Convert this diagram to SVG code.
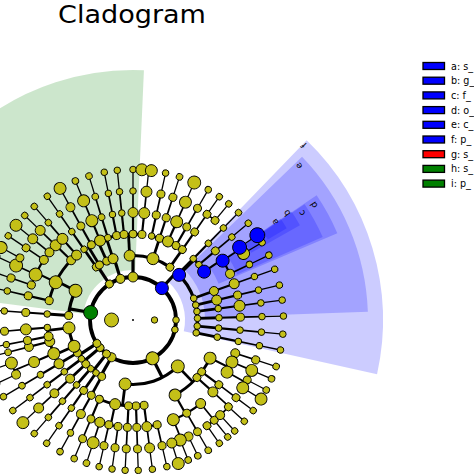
<svg xmlns="http://www.w3.org/2000/svg" xmlns:xlink="http://www.w3.org/1999/xlink" width="474" height="474" viewBox="0 0 474 474">
<style>
text{font-family:"DejaVu Sans","Liberation Sans",sans-serif}
#nodes circle{fill:#c4c018;stroke:#000;stroke-width:.9}
#nodes .b circle{fill:#0000ff}
#nodes .g circle{fill:#008000}
#legend rect{stroke:#000;stroke-width:1.3}
</style>
<defs>
<path id="s3" d="M43 0H64.5" stroke-width="3.2"/>
<path id="s4" d="M64.5 0H86" stroke-width="2.8"/>
<path id="s5" d="M86 0H107.5" stroke-width="2.2"/>
<path id="s6" d="M107.5 0H129" stroke-width="1.7"/>
<path id="s7" d="M129 0H150.5" stroke-width="1.3"/>
<g id="k5"><use href="#s6"/><use href="#s7"/></g>
<g id="k4"><use href="#s5"/><use href="#k5"/></g>
<g id="k3"><use href="#s4"/><use href="#k4"/></g>
<circle id="c3" r="64.5" pathLength="360" stroke-width="3.2"/>
<circle id="c4" r="86" pathLength="360" stroke-width="2.8"/>
<circle id="c5" r="107.5" pathLength="360" stroke-width="2.2"/>
<circle id="c6" r="129" pathLength="360" stroke-width="1.7"/>
<circle id="c7" r="150.5" pathLength="360" stroke-width="1.3"/>
</defs>
<rect width="474" height="474" fill="#fff"/>
<g id="sectors" fill="none" transform="translate(133 320)">
<circle r="150" pathLength="360" stroke="#008000" stroke-opacity=".2" stroke-width="200" stroke-dasharray="85.2 400" transform="rotate(187.3)"/>
<circle r="151" pathLength="360" stroke="#0000ff" stroke-opacity=".2" stroke-width="198" stroke-dasharray="58.5 400" transform="rotate(314)"/>
<circle r="153.5" pathLength="360" stroke="#0000ff" stroke-opacity=".2" stroke-width="163" stroke-dasharray="42 400" transform="rotate(316)"/>
<circle r="157.5" pathLength="360" stroke="#0000ff" stroke-opacity=".2" stroke-width="129" stroke-dasharray="11.2 400" transform="rotate(325.8)"/>
<circle r="160.5" pathLength="360" stroke="#0000ff" stroke-opacity=".2" stroke-width="93" stroke-dasharray="10.4 400" transform="rotate(326)"/>
<circle r="164" pathLength="360" stroke="#0000ff" stroke-opacity=".2" stroke-width="56" stroke-dasharray="4.7 400" transform="rotate(325.7)"/>
<circle r="168" pathLength="360" stroke="#0000ff" stroke-opacity=".2" stroke-width="22" stroke-dasharray="3.6 400" transform="rotate(325.6)"/>
</g>
<g id="edges" fill="none" stroke="#000" transform="translate(133 320)">
<circle r="43" stroke-width="3.8"/>
<use href="#s3" transform="rotate(312.2)"/>
<use href="#c3" stroke-dasharray="59.3 400" transform="rotate(312.2)"/>
<use href="#k3" transform="rotate(314.5)"/>
<use href="#s4" transform="rotate(315.6)"/>
<use href="#c4" stroke-dasharray="10.2 400" transform="rotate(315.6)"/>
<use href="#k4" transform="rotate(320)"/>
<use href="#s5" transform="rotate(325.8)"/>
<use href="#c5" stroke-dasharray="8.7 400" transform="rotate(325.8)"/>
<use href="#s6" transform="rotate(326.5)"/>
<use href="#c6" stroke-dasharray="3.3 400" transform="rotate(325.7)"/>
<use href="#s7" transform="rotate(325.7)"/>
<use href="#s7" transform="rotate(329)"/>
<use href="#k5" transform="rotate(334.5)"/>
<use href="#k3" transform="rotate(340.3)"/>
<use href="#k3" transform="rotate(346.6)"/>
<use href="#k3" transform="rotate(352.4)"/>
<use href="#k3" transform="rotate(358.5)"/>
<use href="#k3" transform="rotate(365.4)"/>
<use href="#k3" transform="rotate(371.5)"/>
<use href="#s3" transform="rotate(63)"/>
<use href="#c3" stroke-dasharray="51 400" transform="rotate(46)"/>
<use href="#s4" transform="rotate(46)"/>
<use href="#c4" stroke-dasharray="34.4 400" transform="rotate(26.3)"/>
<use href="#s5" transform="rotate(26.3)"/>
<use href="#c5" stroke-dasharray="11 400" transform="rotate(18)"/>
<use href="#k5" transform="rotate(18)"/>
<use href="#k5" transform="rotate(23)"/>
<use href="#s6" transform="rotate(29)"/>
<use href="#c6" stroke-dasharray="4 400" transform="rotate(27.7)"/>
<use href="#s7" transform="rotate(27.7)"/>
<use href="#s7" transform="rotate(31.7)"/>
<use href="#k4" transform="rotate(37)"/>
<use href="#s5" transform="rotate(42)"/>
<use href="#s6" transform="rotate(42)"/>
<use href="#c6" stroke-dasharray="5.5 400" transform="rotate(42)"/>
<use href="#s7" transform="rotate(42.3)"/>
<use href="#s7" transform="rotate(47.5)"/>
<use href="#s5" transform="rotate(60.7)"/>
<use href="#c5" stroke-dasharray="17 400" transform="rotate(51)"/>
<use href="#s6" transform="rotate(51)"/>
<use href="#c6" stroke-dasharray="4 400" transform="rotate(51)"/>
<use href="#s7" transform="rotate(51)"/>
<use href="#s7" transform="rotate(55)"/>
<use href="#k5" transform="rotate(60)"/>
<use href="#s6" transform="rotate(68)"/>
<use href="#c6" stroke-dasharray="8 400" transform="rotate(64.5)"/>
<use href="#s7" transform="rotate(64.5)"/>
<use href="#s7" transform="rotate(68.5)"/>
<use href="#s7" transform="rotate(72.5)"/>
<use href="#s4" transform="rotate(97)"/>
<use href="#c4" stroke-dasharray="30.4 400" transform="rotate(82.6)"/>
<use href="#k4" transform="rotate(82.6)"/>
<use href="#c5" stroke-dasharray="5.6 400" transform="rotate(77)"/>
<use href="#k5" transform="rotate(77)"/>
<use href="#k4" transform="rotate(88)"/>
<use href="#k4" transform="rotate(93)"/>
<use href="#s5" transform="rotate(102)"/>
<use href="#c5" stroke-dasharray="10 400" transform="rotate(98)"/>
<use href="#k5" transform="rotate(98)"/>
<use href="#k5" transform="rotate(103)"/>
<use href="#k5" transform="rotate(108)"/>
<use href="#k4" transform="rotate(113)"/>
<use href="#s3" transform="rotate(120)"/>
<use href="#c3" stroke-dasharray="6 400" transform="rotate(119)"/>
<use href="#k3" transform="rotate(119)"/>
<use href="#k3" transform="rotate(125)"/>
<use href="#s3" transform="rotate(128)"/>
<use href="#c3" stroke-dasharray="3 400" transform="rotate(128)"/>
<use href="#k3" transform="rotate(131)"/>
<use href="#s3" transform="rotate(140)"/>
<use href="#c3" stroke-dasharray="6 400" transform="rotate(137)"/>
<use href="#k3" transform="rotate(137)"/>
<use href="#k3" transform="rotate(143)"/>
<use href="#s3" transform="rotate(147)"/>
<use href="#c3" stroke-dasharray="26 400" transform="rotate(147)"/>
<use href="#k3" transform="rotate(149.4)"/>
<use href="#s4" transform="rotate(156)"/>
<use href="#c4" stroke-dasharray="9.5 400" transform="rotate(156)"/>
<use href="#s5" transform="rotate(157)"/>
<use href="#s6" transform="rotate(157)"/>
<use href="#c6" stroke-dasharray="5.5 400" transform="rotate(155)"/>
<use href="#s7" transform="rotate(155)"/>
<use href="#s7" transform="rotate(160.5)"/>
<use href="#k4" transform="rotate(165.5)"/>
<use href="#s4" transform="rotate(173)"/>
<use href="#c4" stroke-dasharray="6 400" transform="rotate(169)"/>
<use href="#k4" transform="rotate(169)"/>
<use href="#k4" transform="rotate(175)"/>
<use href="#s3" transform="rotate(190)"/>
<use href="#c3" stroke-dasharray="23 400" transform="rotate(184)"/>
<use href="#k3" transform="rotate(184)"/>
<use href="#s4" transform="rotate(207)"/>
<use href="#c4" stroke-dasharray="36 400" transform="rotate(193)"/>
<use href="#k4" transform="rotate(193)"/>
<use href="#s5" transform="rotate(206)"/>
<use href="#c5" stroke-dasharray="15 400" transform="rotate(199)"/>
<use href="#k5" transform="rotate(199)"/>
<use href="#s6" transform="rotate(205)"/>
<use href="#c6" stroke-dasharray="3.8 400" transform="rotate(205)"/>
<use href="#s7" transform="rotate(205)"/>
<use href="#s7" transform="rotate(208.8)"/>
<use href="#k5" transform="rotate(214)"/>
<use href="#k4" transform="rotate(224)"/>
<use href="#c5" stroke-dasharray="5 400" transform="rotate(219)"/>
<use href="#k5" transform="rotate(219)"/>
<use href="#k4" transform="rotate(229)"/>
<use href="#s3" transform="rotate(236.7)"/>
<use href="#c3" stroke-dasharray="3.3 400" transform="rotate(235.3)"/>
<use href="#k3" transform="rotate(235.3)"/>
<use href="#s4" transform="rotate(238.6)"/>
<use href="#c4" stroke-dasharray="2.4 400" transform="rotate(238.6)"/>
<use href="#k4" transform="rotate(241)"/>
<use href="#s3" transform="rotate(253)"/>
<use href="#c3" stroke-dasharray="7 400" transform="rotate(246)"/>
<use href="#s4" transform="rotate(246)"/>
<use href="#c4" stroke-dasharray="1.5 400" transform="rotate(246)"/>
<use href="#k4" transform="rotate(247.5)"/>
<use href="#s4" transform="rotate(252)"/>
<use href="#c4" stroke-dasharray="7 400" transform="rotate(252)"/>
<use href="#k4" transform="rotate(253)"/>
<use href="#k4" transform="rotate(259)"/>
<use href="#s3" transform="rotate(270)"/>
<use href="#c3" stroke-dasharray="38 400" transform="rotate(267)"/>
<use href="#s4" transform="rotate(267)"/>
<use href="#c4" stroke-dasharray="12 400" transform="rotate(264)"/>
<use href="#k4" transform="rotate(264)"/>
<use href="#k4" transform="rotate(270)"/>
<use href="#k4" transform="rotate(276)"/>
<use href="#c7" stroke-dasharray="3.6 400" transform="rotate(273.4)"/>
<use href="#s4" transform="rotate(288)"/>
<use href="#c4" stroke-dasharray="17.5 400" transform="rotate(282.5)"/>
<use href="#k4" transform="rotate(282.5)"/>
<use href="#k4" transform="rotate(288)"/>
<use href="#k4" transform="rotate(294)"/>
<use href="#k4" transform="rotate(300)"/>
<use href="#k3" transform="rotate(305)"/>
<use href="#c6" stroke-dasharray="4.5 400" transform="rotate(305)"/>
<use href="#s7" transform="rotate(309.5)"/>
</g>
<g id="nodes" transform="translate(133 320)">
<g id="root"><circle r="1" style="fill:#000;stroke:none"/></g>
<g transform="rotate(180)"><g id="kB"><circle cx="21.5" r="7"/></g></g>
<g transform="rotate(0)"><g id="kA"><circle cx="21.5" r="3.2"/></g><g id="pA"><circle cx="43" r="3.3"/></g></g>
<g transform="rotate(13)"><g id="pX"><circle cx="43" r="3.3"/></g></g>
<g transform="rotate(312.2)"><g id="pf" class="b"><circle cx="43" r="6.5"/></g></g>
<g transform="rotate(314.5)"><g id="n1"><circle cx="64.5" r="3.3"/></g><g id="n2"><circle cx="86" r="3.3"/></g><g id="n3"><circle cx="107.5" r="3.3"/></g><g id="n4"><circle cx="129" r="3.3"/></g><g id="n5"><circle cx="150.5" r="3.3"/></g></g>
<g transform="rotate(315.6)"><g id="ce" class="b"><circle cx="64.5" r="6.5"/></g></g>
<g transform="rotate(320)"><g id="n6"><circle cx="86" r="3.3"/></g><g id="n7"><circle cx="107.5" r="4"/></g><g id="n8"><circle cx="129" r="3.3"/></g><g id="n9"><circle cx="150.5" r="3.3"/></g></g>
<g transform="rotate(325.8)"><g id="od" class="b"><circle cx="86" r="6.5"/></g></g>
<g transform="rotate(326.5)"><g id="fc" class="b"><circle cx="107.5" r="6.5"/></g></g>
<g transform="rotate(329)"><g id="n10"><circle cx="129" r="6"/></g><g id="n11"><circle cx="150.5" r="3.3"/></g></g>
<g transform="rotate(325.7)"><g id="gb" class="b"><circle cx="129" r="7"/></g><g id="sa" class="b"><circle cx="150.5" r="7.5"/></g></g>
<g transform="rotate(334.5)"><g id="n12"><circle cx="107.5" r="4.5"/></g><g id="n13"><circle cx="129" r="3.3"/></g><g id="n14"><circle cx="150.5" r="3.3"/></g></g>
<g transform="rotate(340.3)"><g id="n15"><circle cx="64.5" r="3.3"/></g><g id="n16"><circle cx="86" r="4.5"/></g><g id="n17"><circle cx="107.5" r="5"/></g><g id="n18"><circle cx="129" r="3.3"/></g><g id="n19"><circle cx="150.5" r="3.3"/></g></g>
<g transform="rotate(346.6)"><g id="n20"><circle cx="64.5" r="3.3"/></g><g id="n21"><circle cx="86" r="5"/></g><g id="n22"><circle cx="107.5" r="4"/></g><g id="n23"><circle cx="129" r="3.3"/></g><g id="n24"><circle cx="150.5" r="3.3"/></g></g>
<g transform="rotate(352.4)"><g id="n25"><circle cx="64.5" r="3.3"/></g><g id="n26"><circle cx="86" r="3.3"/></g><g id="n27"><circle cx="107.5" r="5.5"/></g><g id="n28"><circle cx="129" r="3.3"/></g><g id="n29"><circle cx="150.5" r="3.3"/></g></g>
<g transform="rotate(358.5)"><g id="n30"><circle cx="64.5" r="3.3"/></g><g id="n31"><circle cx="86" r="3.3"/></g><g id="n32"><circle cx="107.5" r="4"/></g><g id="n33"><circle cx="129" r="3.3"/></g><g id="n34"><circle cx="150.5" r="3.3"/></g></g>
<g transform="rotate(365.4)"><g id="n35"><circle cx="64.5" r="3.3"/></g><g id="n36"><circle cx="86" r="3.3"/></g><g id="n37"><circle cx="107.5" r="3.3"/></g><g id="n38"><circle cx="129" r="3.3"/></g><g id="n39"><circle cx="150.5" r="3.3"/></g></g>
<g transform="rotate(371.5)"><g id="n40"><circle cx="64.5" r="3.3"/></g><g id="n41"><circle cx="86" r="3.3"/></g><g id="n42"><circle cx="107.5" r="3.3"/></g><g id="n43"><circle cx="129" r="3.3"/></g><g id="n44"><circle cx="150.5" r="3.3"/></g></g>
<g transform="rotate(63)"><g id="n45"><circle cx="43" r="6.5"/></g></g>
<g transform="rotate(46)"><g id="n46"><circle cx="64.5" r="6.5"/></g></g>
<g transform="rotate(26.3)"><g id="n47"><circle cx="86" r="6"/></g></g>
<g transform="rotate(18)"><g id="n48"><circle cx="107.5" r="4.5"/></g><g id="n49"><circle cx="129" r="4"/></g><g id="n50"><circle cx="150.5" r="3.3"/></g></g>
<g transform="rotate(23)"><g id="n51"><circle cx="107.5" r="6"/></g><g id="n52"><circle cx="129" r="6"/></g><g id="n53"><circle cx="150.5" r="3.3"/></g></g>
<g transform="rotate(29)"><g id="n54"><circle cx="107.5" r="6"/></g></g>
<g transform="rotate(27.7)"><g id="n55"><circle cx="129" r="4"/></g><g id="n56"><circle cx="150.5" r="3.3"/></g></g>
<g transform="rotate(31.7)"><g id="n57"><circle cx="129" r="6"/></g><g id="n58"><circle cx="150.5" r="6"/></g></g>
<g transform="rotate(37)"><g id="n59"><circle cx="86" r="4"/></g><g id="n60"><circle cx="107.5" r="4"/></g><g id="n61"><circle cx="129" r="4"/></g><g id="n62"><circle cx="150.5" r="3.3"/></g></g>
<g transform="rotate(42)"><g id="n63"><circle cx="86" r="4"/></g><g id="n64"><circle cx="107.5" r="5"/></g></g>
<g transform="rotate(42.3)"><g id="n65"><circle cx="129" r="4"/></g><g id="n66"><circle cx="150.5" r="3.3"/></g></g>
<g transform="rotate(47.5)"><g id="n67"><circle cx="129" r="4.5"/></g><g id="n68"><circle cx="150.5" r="3.3"/></g></g>
<g transform="rotate(60.7)"><g id="n69"><circle cx="86" r="6"/></g></g>
<g transform="rotate(51)"><g id="n70"><circle cx="107.5" r="5"/></g><g id="n71"><circle cx="129" r="4"/></g><g id="n72"><circle cx="150.5" r="3.3"/></g></g>
<g transform="rotate(55)"><g id="n73"><circle cx="129" r="4"/></g><g id="n74"><circle cx="150.5" r="3.3"/></g></g>
<g transform="rotate(60)"><g id="n75"><circle cx="107.5" r="4"/></g><g id="n76"><circle cx="129" r="4"/></g><g id="n77"><circle cx="150.5" r="3.3"/></g></g>
<g transform="rotate(68)"><g id="n78"><circle cx="107.5" r="6"/></g></g>
<g transform="rotate(64.5)"><g id="n79"><circle cx="129" r="4.5"/></g><g id="n80"><circle cx="150.5" r="3.3"/></g></g>
<g transform="rotate(68.5)"><g id="n81"><circle cx="129" r="6"/></g><g id="n82"><circle cx="150.5" r="3.3"/></g></g>
<g transform="rotate(72.5)"><g id="n83"><circle cx="129" r="5"/></g><g id="n84"><circle cx="150.5" r="6"/></g></g>
<g transform="rotate(97)"><g id="n85"><circle cx="64.5" r="6"/></g></g>
<g transform="rotate(82.6)"><g id="n86"><circle cx="86" r="4"/></g><g id="n87"><circle cx="107.5" r="5"/></g><g id="n88"><circle cx="129" r="5"/></g><g id="n89"><circle cx="150.5" r="3.3"/></g></g>
<g transform="rotate(77)"><g id="n90"><circle cx="107.5" r="4"/></g><g id="n91"><circle cx="129" r="4"/></g><g id="n92"><circle cx="150.5" r="3.3"/></g></g>
<g transform="rotate(88)"><g id="n93"><circle cx="86" r="4"/></g><g id="n94"><circle cx="107.5" r="4"/></g><g id="n95"><circle cx="129" r="4"/></g><g id="n96"><circle cx="150.5" r="3.3"/></g></g>
<g transform="rotate(93)"><g id="n97"><circle cx="86" r="4"/></g><g id="n98"><circle cx="107.5" r="4"/></g><g id="n99"><circle cx="129" r="4"/></g><g id="n100"><circle cx="150.5" r="3.3"/></g></g>
<g transform="rotate(102)"><g id="n101"><circle cx="86" r="5.5"/></g></g>
<g transform="rotate(98)"><g id="n102"><circle cx="107.5" r="4"/></g><g id="n103"><circle cx="129" r="4"/></g><g id="n104"><circle cx="150.5" r="3.3"/></g></g>
<g transform="rotate(103)"><g id="n105"><circle cx="107.5" r="4"/></g><g id="n106"><circle cx="129" r="4"/></g><g id="n107"><circle cx="150.5" r="3.3"/></g></g>
<g transform="rotate(108)"><g id="n108"><circle cx="107.5" r="5"/></g><g id="n109"><circle cx="129" r="6"/></g><g id="n110"><circle cx="150.5" r="3.3"/></g></g>
<g transform="rotate(113)"><g id="n111"><circle cx="86" r="4"/></g><g id="n112"><circle cx="107.5" r="4"/></g><g id="n113"><circle cx="129" r="4"/></g><g id="n114"><circle cx="150.5" r="3.3"/></g></g>
<g transform="rotate(120)"><g id="n115"><circle cx="43" r="4.5"/></g></g>
<g transform="rotate(119)"><g id="n116"><circle cx="64.5" r="4"/></g><g id="n117"><circle cx="86" r="4"/></g><g id="n118"><circle cx="107.5" r="4.5"/></g><g id="n119"><circle cx="129" r="3.3"/></g><g id="n120"><circle cx="150.5" r="3.3"/></g></g>
<g transform="rotate(125)"><g id="n121"><circle cx="64.5" r="3.3"/></g><g id="n122"><circle cx="86" r="4"/></g><g id="n123"><circle cx="107.5" r="3.3"/></g><g id="n124"><circle cx="129" r="3.3"/></g><g id="n125"><circle cx="150.5" r="3.3"/></g></g>
<g transform="rotate(128)"><g id="n126"><circle cx="43" r="4"/></g></g>
<g transform="rotate(131)"><g id="n127"><circle cx="64.5" r="3.3"/></g><g id="n128"><circle cx="86" r="3.3"/></g><g id="n129"><circle cx="107.5" r="3.3"/></g><g id="n130"><circle cx="129" r="3.3"/></g><g id="n131"><circle cx="150.5" r="3.3"/></g></g>
<g transform="rotate(140)"><g id="n132"><circle cx="43" r="4"/></g></g>
<g transform="rotate(137)"><g id="n133"><circle cx="64.5" r="4"/></g><g id="n134"><circle cx="86" r="4.5"/></g><g id="n135"><circle cx="107.5" r="4.5"/></g><g id="n136"><circle cx="129" r="5"/></g><g id="n137"><circle cx="150.5" r="6"/></g></g>
<g transform="rotate(143)"><g id="n138"><circle cx="64.5" r="3.3"/></g><g id="n139"><circle cx="86" r="3.3"/></g><g id="n140"><circle cx="107.5" r="3.3"/></g><g id="n141"><circle cx="129" r="3.3"/></g><g id="n142"><circle cx="150.5" r="3.3"/></g></g>
<g transform="rotate(147)"><g id="n143"><circle cx="43" r="4"/></g></g>
<g transform="rotate(149.4)"><g id="n144"><circle cx="64.5" r="4"/></g><g id="n145"><circle cx="86" r="5"/></g><g id="n146"><circle cx="107.5" r="3.3"/></g><g id="n147"><circle cx="129" r="3.3"/></g><g id="n148"><circle cx="150.5" r="3.3"/></g></g>
<g transform="rotate(156)"><g id="n149"><circle cx="64.5" r="6"/></g></g>
<g transform="rotate(157)"><g id="n150"><circle cx="86" r="6"/></g><g id="n151"><circle cx="107.5" r="5.5"/></g></g>
<g transform="rotate(155)"><g id="n152"><circle cx="129" r="4.5"/></g><g id="n153"><circle cx="150.5" r="3.3"/></g></g>
<g transform="rotate(160.5)"><g id="n154"><circle cx="129" r="6"/></g><g id="n155"><circle cx="150.5" r="4"/></g></g>
<g transform="rotate(165.5)"><g id="n156"><circle cx="86" r="5"/></g><g id="n157"><circle cx="107.5" r="4.5"/></g><g id="n158"><circle cx="129" r="3.3"/></g><g id="n159"><circle cx="150.5" r="3.3"/></g></g>
<g transform="rotate(173)"><g id="n160"><circle cx="64.5" r="6"/></g></g>
<g transform="rotate(169)"><g id="n161"><circle cx="86" r="4.5"/></g><g id="n162"><circle cx="107.5" r="4"/></g><g id="n163"><circle cx="129" r="3.3"/></g><g id="n164"><circle cx="150.5" r="3.3"/></g></g>
<g transform="rotate(175)"><g id="n165"><circle cx="86" r="3.3"/></g><g id="n166"><circle cx="107.5" r="5.5"/></g><g id="n167"><circle cx="129" r="4"/></g><g id="n168"><circle cx="150.5" r="3.3"/></g></g>
<g transform="rotate(190)"><g id="pi" class="g"><circle cx="43" r="7"/></g></g>
<g transform="rotate(184)"><g id="n169"><circle cx="64.5" r="4"/></g><g id="n170"><circle cx="86" r="3.3"/></g><g id="n171"><circle cx="107.5" r="4"/></g><g id="n172"><circle cx="129" r="3.3"/></g><g id="n173"><circle cx="150.5" r="3.3"/></g></g>
<g transform="rotate(207)"><g id="n174"><circle cx="64.5" r="6.5"/></g></g>
<g transform="rotate(193)"><g id="n175"><circle cx="86" r="4"/></g><g id="n176"><circle cx="107.5" r="4"/></g><g id="n177"><circle cx="129" r="3.3"/></g><g id="n178"><circle cx="150.5" r="3.3"/></g></g>
<g transform="rotate(206)"><g id="n179"><circle cx="86" r="6.5"/></g></g>
<g transform="rotate(199)"><g id="n180"><circle cx="107.5" r="4"/></g><g id="n181"><circle cx="129" r="4"/></g><g id="n182"><circle cx="150.5" r="3.3"/></g></g>
<g transform="rotate(205)"><g id="n183"><circle cx="107.5" r="6.5"/></g><g id="n184"><circle cx="129" r="6.5"/></g><g id="n185"><circle cx="150.5" r="3.3"/></g></g>
<g transform="rotate(208.8)"><g id="n186"><circle cx="129" r="4"/></g><g id="n187"><circle cx="150.5" r="6"/></g></g>
<g transform="rotate(214)"><g id="n188"><circle cx="107.5" r="4.5"/></g><g id="n189"><circle cx="129" r="4"/></g><g id="n190"><circle cx="150.5" r="3.3"/></g></g>
<g transform="rotate(224)"><g id="n191"><circle cx="86" r="4.5"/></g><g id="n192"><circle cx="107.5" r="5.5"/></g><g id="n193"><circle cx="129" r="5"/></g><g id="n194"><circle cx="150.5" r="3.3"/></g></g>
<g transform="rotate(219)"><g id="n195"><circle cx="107.5" r="4.5"/></g><g id="n196"><circle cx="129" r="5"/></g><g id="n197"><circle cx="150.5" r="6"/></g></g>
<g transform="rotate(229)"><g id="n198"><circle cx="86" r="5"/></g><g id="n199"><circle cx="107.5" r="5.5"/></g><g id="n200"><circle cx="129" r="3.3"/></g><g id="n201"><circle cx="150.5" r="3.3"/></g></g>
<g transform="rotate(236.7)"><g id="n202"><circle cx="43" r="4"/></g></g>
<g transform="rotate(235.3)"><g id="n203"><circle cx="64.5" r="4"/></g><g id="n204"><circle cx="86" r="3.3"/></g><g id="n205"><circle cx="107.5" r="3.3"/></g><g id="n206"><circle cx="129" r="3.3"/></g><g id="n207"><circle cx="150.5" r="3.3"/></g></g>
<g transform="rotate(238.6)"><g id="n208"><circle cx="64.5" r="4"/></g></g>
<g transform="rotate(241)"><g id="n209"><circle cx="86" r="4"/></g><g id="n210"><circle cx="107.5" r="4"/></g><g id="n211"><circle cx="129" r="4.5"/></g><g id="n212"><circle cx="150.5" r="6"/></g></g>
<g transform="rotate(246)"><g id="n213"><circle cx="64.5" r="4"/></g></g>
<g transform="rotate(247.5)"><g id="n214"><circle cx="86" r="5.5"/></g><g id="n215"><circle cx="107.5" r="6"/></g><g id="n216"><circle cx="129" r="6"/></g><g id="n217"><circle cx="150.5" r="3.3"/></g></g>
<g transform="rotate(252)"><g id="n218"><circle cx="64.5" r="5"/></g></g>
<g transform="rotate(253)"><g id="n219"><circle cx="43" r="4.5"/></g><g id="n220"><circle cx="86" r="3.3"/></g><g id="n221"><circle cx="107.5" r="3.3"/></g><g id="n222"><circle cx="129" r="3.3"/></g><g id="n223"><circle cx="150.5" r="3.3"/></g></g>
<g transform="rotate(259)"><g id="n224"><circle cx="86" r="4"/></g><g id="n225"><circle cx="107.5" r="3.3"/></g><g id="n226"><circle cx="129" r="3.3"/></g><g id="n227"><circle cx="150.5" r="3.3"/></g></g>
<g transform="rotate(270)"><g id="n228"><circle cx="43" r="5"/></g><g id="n229"><circle cx="86" r="4"/></g><g id="n230"><circle cx="107.5" r="5"/></g><g id="n231"><circle cx="129" r="3.3"/></g><g id="n232"><circle cx="150.5" r="3.3"/></g></g>
<g transform="rotate(267)"><g id="n233"><circle cx="64.5" r="5.5"/></g></g>
<g transform="rotate(264)"><g id="n234"><circle cx="86" r="4"/></g><g id="n235"><circle cx="107.5" r="3.3"/></g><g id="n236"><circle cx="129" r="3.3"/></g><g id="n237"><circle cx="150.5" r="3.3"/></g></g>
<g transform="rotate(276)"><g id="n238"><circle cx="86" r="4"/></g><g id="n239"><circle cx="107.5" r="5.5"/></g><g id="n240"><circle cx="129" r="5.5"/></g></g>
<g transform="rotate(273.4)"><g id="n241"><circle cx="150.5" r="6"/></g></g>
<g transform="rotate(277)"><g id="n242"><circle cx="150.5" r="6"/></g></g>
<g transform="rotate(288)"><g id="n243"><circle cx="64.5" r="6"/></g><g id="n244"><circle cx="86" r="4"/></g><g id="n245"><circle cx="107.5" r="4"/></g><g id="n246"><circle cx="129" r="4"/></g><g id="n247"><circle cx="150.5" r="3.3"/></g></g>
<g transform="rotate(282.5)"><g id="n248"><circle cx="86" r="3.3"/></g><g id="n249"><circle cx="107.5" r="4"/></g><g id="n250"><circle cx="129" r="4"/></g><g id="n251"><circle cx="150.5" r="3.3"/></g></g>
<g transform="rotate(294)"><g id="n252"><circle cx="86" r="5.5"/></g><g id="n253"><circle cx="107.5" r="6"/></g><g id="n254"><circle cx="129" r="6"/></g><g id="n255"><circle cx="150.5" r="6.5"/></g></g>
<g transform="rotate(300)"><g id="n256"><circle cx="86" r="4"/></g><g id="n257"><circle cx="107.5" r="4"/></g><g id="n258"><circle cx="129" r="4"/></g><g id="n259"><circle cx="150.5" r="3.3"/></g></g>
<g transform="rotate(305)"><g id="n260"><circle cx="64.5" r="4"/></g><g id="n261"><circle cx="86" r="4"/></g><g id="n262"><circle cx="107.5" r="4"/></g><g id="n263"><circle cx="129" r="4"/></g><g id="n264"><circle cx="150.5" r="3.3"/></g></g>
<g transform="rotate(309.5)"><g id="n265"><circle cx="129" r="4"/></g><g id="n266"><circle cx="150.5" r="3.3"/></g></g>
</g>
<g id="sector-labels" font-size="9" text-anchor="middle" dominant-baseline="central">
<text transform="translate(275 222) rotate(-124.6)">a</text>
<text transform="translate(287 213) rotate(-124.8)">b</text>
<text transform="translate(302 213) rotate(-122.3)">c</text>
<text transform="translate(314 205) rotate(-122.4)">d</text>
<text transform="translate(299 166) rotate(-133)">e</text>
<text transform="translate(304 145) rotate(-136)">f</text>
</g>
<text id="title" x="58" y="22.5" font-size="24.5" textLength="148" lengthAdjust="spacingAndGlyphs">Cladogram</text>
<g id="legend" font-size="9.6">
<rect x="423" y="62.5" width="21.5" height="7" fill="#0000ff"/><text x="451" y="69.5">a: s_</text>
<rect x="423" y="77.2" width="21.5" height="7" fill="#0000ff"/><text x="451" y="84.2">b: g_</text>
<rect x="423" y="91.9" width="21.5" height="7" fill="#0000ff"/><text x="451" y="98.9">c: f_</text>
<rect x="423" y="106.6" width="21.5" height="7" fill="#0000ff"/><text x="451" y="113.6">d: o_</text>
<rect x="423" y="121.3" width="21.5" height="7" fill="#0000ff"/><text x="451" y="128.3">e: c_</text>
<rect x="423" y="136" width="21.5" height="7" fill="#0000ff"/><text x="451" y="143">f: p_</text>
<rect x="423" y="150.7" width="21.5" height="7" fill="#ff0000"/><text x="451" y="157.7">g: s_</text>
<rect x="423" y="165.4" width="21.5" height="7" fill="#008000"/><text x="451" y="172.4">h: s_</text>
<rect x="423" y="180.1" width="21.5" height="7" fill="#008000"/><text x="451" y="187.1">i: p_</text>
</g>
</svg>
